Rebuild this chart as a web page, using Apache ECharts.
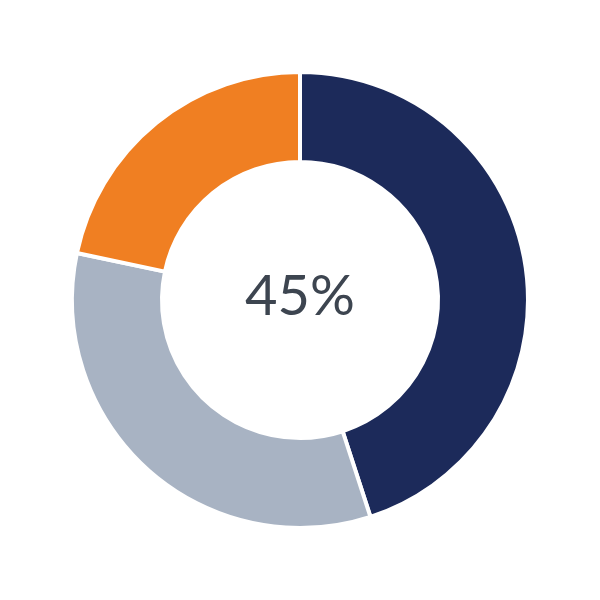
<!DOCTYPE html>
<html>
  <head>
    <meta charset="utf-8" />
    <title>Donut</title>
    <script src="https://cdn.jsdelivr.net/npm/echarts@6/dist/echarts.min.js"></script>
    <style type="text/css">
      html, body { margin: 0; padding: 0; background: #fff; }
    </style>
  </head>
  <body>
    <div id="main" style="width: 600px; height: 600px"></div>
    <script type="text/javascript">
      // data
      var names = ["A", "B", "C"];
      var values = [45, 33.3, 21.7];
      var colors = ["#1c2a5a", "#a8b3c3", "#f07f22"];
      var centerText = "45%";

      var myChart = echarts.init(document.getElementById("main"));

      var option = {
        animation: false,
        graphic: [
          {
            type: "text",
            x: 300,
            y: 297,
            style: {
              text: centerText,
              fontSize: 56,
              fontWeight: "normal",
              fontFamily: "Lato, sans-serif",
              fill: "#3d4550",
              align: "center",
              verticalAlign: "middle"
            }
          }
        ],
        series: [
          {
            type: "pie",
            center: [300, 300],
            radius: [138, 228],
            startAngle: 90,
            clockwise: true,
            label: { show: false },
            labelLine: { show: false },
            itemStyle: { borderColor: "#fff", borderWidth: 4 },
            data: names.map(function (n, i) {
              return { name: n, value: values[i], itemStyle: { color: colors[i] } };
            })
          }
        ]
      };

      myChart.setOption(option);
    </script>
  </body>
</html>
